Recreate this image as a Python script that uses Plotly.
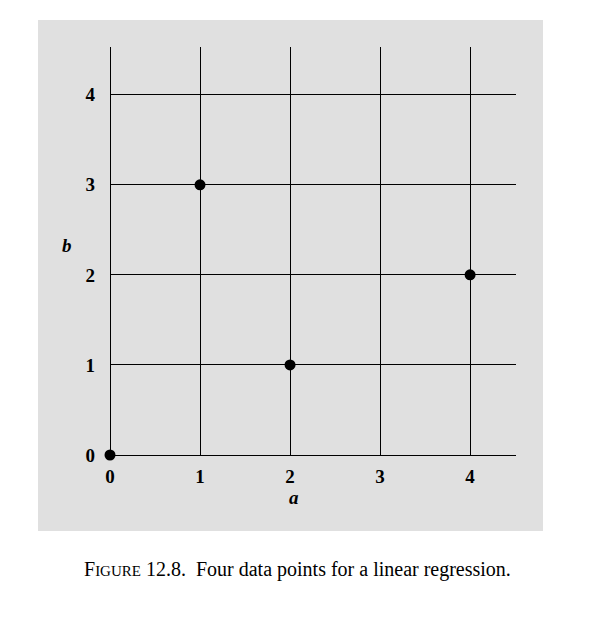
import plotly.graph_objects as go

a_vals = [0, 1, 2, 4]
b_vals = [0, 3, 1, 2]
ticks = [0, 1, 2, 3, 4]
caption = 'F<span style="font-size:15px">IGURE</span> 12.8.  Four data points for a linear regression.'

W, H = 594, 632
L, R, T, B = 102, 86, 39, 185
pw, ph = W - L - R, H - T - B
ox, oy = 8, 8  # page offset

fig = go.Figure(go.Scatter(x=a_vals, y=b_vals, mode="markers",
                           marker=dict(color="black", size=11), cliponaxis=False))
serif = "Liberation Serif"
fig.update_layout(
    width=W, height=H, margin=dict(l=L, r=R, t=T, b=B),
    paper_bgcolor="white", plot_bgcolor="rgba(0,0,0,0)", showlegend=False,
    font=dict(family=serif, color="black"),
    xaxis=dict(range=[0, 4.51], tickvals=ticks, showgrid=True, gridcolor="black", gridwidth=1,
               zeroline=True, zerolinecolor="black", zerolinewidth=1, showline=False,
               ticklabelstandoff=8, tickfont=dict(size=19, family=serif, weight="bold")),
    yaxis=dict(range=[0, 4.53], tickvals=ticks, showgrid=True, gridcolor="black", gridwidth=1,
               zeroline=True, zerolinecolor="black", zerolinewidth=1, showline=False,
               ticklabelstandoff=14, tickfont=dict(size=19, family=serif, weight="bold")),
    shapes=[dict(type="rect", xref="paper", yref="paper", layer="below",
                 x0=(38 - ox - L) / pw, x1=(543 - ox - L) / pw,
                 y0=(455 - 531) / ph, y1=(455 - 20) / ph,
                 fillcolor="#e0e0e0", line=dict(width=0))],
    annotations=[
        dict(text="<b><i>b</i></b>", xref="paper", yref="paper", x=(60 - ox - L) / pw, y=(455 - 245) / ph,
             showarrow=False, font=dict(size=19)),
        dict(text="<b><i>a</i></b>", xref="paper", yref="paper", x=(294 - ox - L) / pw, y=(455 - 510) / ph,
             showarrow=False, font=dict(size=19)),
        dict(text=caption, xref="paper", yref="paper", x=(297 - ox - L) / pw, y=(455 - 583) / ph,
             showarrow=False, font=dict(size=20)),
    ],
)
fig.write_html("out.html")
